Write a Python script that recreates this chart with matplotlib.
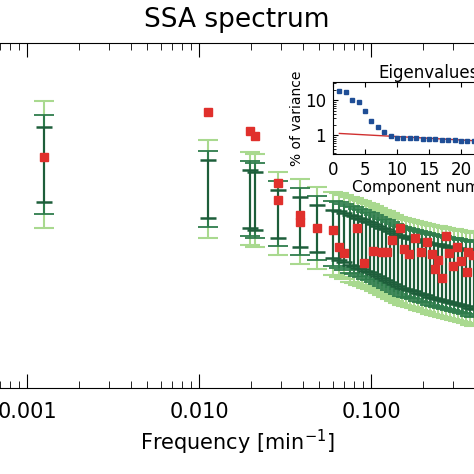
import numpy as np
import matplotlib
matplotlib.use("Agg")
import matplotlib.pyplot as plt

# ---- main spectrum data (arbitrary log-power units) ----
bar_freq = [0.00126, 0.0113, 0.0198, 0.0212, 0.0288, 0.0386, 0.0485, 0.0601, 0.0652, 0.0697,
            0.0755, 0.0797, 0.0840, 0.0886, 0.0935, 0.0986, 0.1040, 0.1098, 0.1160, 0.1222,
            0.1288, 0.1361, 0.1435, 0.1514, 0.1596, 0.1687, 0.1778, 0.1875, 0.1982, 0.2089,
            0.2203, 0.2323, 0.2455, 0.2588, 0.2729, 0.2877, 0.3041, 0.3206, 0.3381, 0.3565,
            0.3767, 0.3972]
dark_hi = [261, 228, 218, 216, 198, 191, 183, 178, 177, 175,
           173, 172, 170, 169, 167, 166, 164, 162, 160, 159, 157, 155, 153, 152, 151, 150,
           149, 148, 147, 146, 145, 144, 144, 143, 142, 141, 141, 140, 139, 139, 138, 137]
dark_lo = [186, 170, 160, 158, 150, 141, 136, 130, 128, 126,
           123, 122, 120, 119, 117, 116, 114, 112, 110, 108, 106, 104, 102, 100, 99, 98,
           97, 95, 94, 93, 91, 90, 89, 88, 87, 86, 85, 84, 83, 82, 80, 79]
med_hi = [273, 237, 227, 225, 207, 200, 192, 187, 186, 184,
          182, 181, 179, 178, 176, 175, 173, 171, 169, 168, 166, 164, 162, 161, 160, 159,
          158, 157, 156, 155, 154, 153, 153, 152, 151, 150, 150, 149, 148, 148, 147, 146]
med_lo = [174, 161, 152, 150, 142, 133, 128, 122, 120, 118,
          115, 114, 112, 111, 109, 108, 106, 104, 102, 100, 98, 96, 94, 92, 91, 90,
          89, 87, 86, 85, 83, 82, 81, 80, 79, 78, 77, 76, 75, 74, 72, 71]
light_hi = [287, 248, 236, 234, 216, 209, 201, 196, 195, 193,
            191, 190, 188, 187, 185, 184, 182, 180, 178, 177, 175, 173, 171, 170, 169, 168,
            167, 166, 165, 164, 163, 162, 162, 161, 160, 159, 159, 158, 157, 157, 156, 155]
light_lo = [160, 150, 143, 141, 133, 124, 119, 113, 111, 109,
            106, 105, 103, 102, 100, 99, 97, 95, 93, 91, 89, 87, 85, 83, 82, 81,
            80, 78, 77, 76, 74, 73, 72, 71, 70, 69, 68, 67, 66, 65, 63, 62]

red_freq = [0.00126, 0.0113, 0.0198, 0.0212, 0.0288, 0.0288, 0.0386, 0.0386, 0.0485, 0.0601,
            0.0652, 0.0697, 0.0829, 0.0910, 0.1027, 0.1160, 0.1240, 0.1324, 0.1475, 0.1556,
            0.1664, 0.1803, 0.1954, 0.2117, 0.2264, 0.2355, 0.2453, 0.2588, 0.2729, 0.2839,
            0.2999, 0.3162, 0.3334, 0.3614, 0.3664, 0.3917]
red_val = [231, 276, 257, 252, 205, 188, 173, 166, 160, 158,
           141, 135, 160, 125, 137, 136, 136, 148, 160, 139,
           134, 150, 136, 146, 134, 119, 128, 110, 152, 135,
           122, 141, 127, 116, 136, 133]

# ---- inset: eigenvalues ----
comp = list(range(1, 31))
eig = [18, 17, 10, 9, 5, 2.6, 1.7, 1.25, 0.95, 0.85, 0.83, 0.82, 0.81, 0.80, 0.79,
       0.76, 0.74, 0.72, 0.71, 0.70, 0.69, 0.68, 0.66, 0.65, 0.64, 0.63, 0.62, 0.61, 0.60, 0.59]
noise_x = [1, 30]
noise_y = [1.12, 0.58]

W = H = 474
fig = plt.figure(figsize=(4.74, 4.74), dpi=100)
ax = fig.add_axes([0, 1 - 388 / H, 1, (388 - 43) / H])
ax.set_xscale("log")
ax.set_xlim(10 ** -3.157, 10 ** -0.401)
ax.set_ylim(0, 345)

light = "#a9d98f"
dark = "#1d5e3a"
bf = np.array(bar_freq)
ax.errorbar(bf, (np.array(light_hi) + np.array(light_lo)) / 2,
            yerr=[(np.array(light_hi) - np.array(light_lo)) / 2] * 2,
            fmt="none", ecolor=light, elinewidth=1.5, capsize=7, capthick=1.5)
ax.errorbar(bf, (np.array(med_hi) + np.array(med_lo)) / 2,
            yerr=[(np.array(med_hi) - np.array(med_lo)) / 2] * 2,
            fmt="none", ecolor="#2f7d4c", elinewidth=1.5, capsize=7, capthick=1.3)
ax.errorbar(bf, (np.array(dark_hi) + np.array(dark_lo)) / 2,
            yerr=[(np.array(dark_hi) - np.array(dark_lo)) / 2] * 2,
            fmt="none", ecolor=dark, elinewidth=1.5, capsize=6, capthick=1.8)
ax.plot(red_freq, red_val, "s", color="#e0302c", ms=6, mec="#e0302c", zorder=5)

for s in ["left", "right"]:
    ax.spines[s].set_visible(False)
ax.yaxis.set_visible(False)
ax.tick_params(axis="x", which="both", direction="in", top=True, bottom=True, labelsize=15, pad=10)
ax.tick_params(axis="x", which="major", length=10)
ax.tick_params(axis="x", which="minor", length=5)
ax.set_xticks([0.001, 0.01, 0.1])
ax.set_xticklabels(["0.001", "0.010", "0.100"])
ax.set_xlabel("Frequency [min$^{-1}$]", fontsize=15, labelpad=4)
fig.text(0.5, 1 - 20 / H, "SSA spectrum", ha="center", va="center", fontsize=19)

# inset
ia = fig.add_axes([333 / W, 1 - 154 / H, 192 / W, (154 - 82) / H])
ia.set_yscale("log")
ia.set_xlim(0, 30)
ia.set_ylim(0.29, 33)
ia.plot(noise_x, noise_y, color="#d03030", lw=1)
ia.plot(comp, eig, "s", color="#1f4e96", ms=3)
ia.set_xticks([0, 5, 10, 15, 20, 25, 30])
ia.set_yticks([1, 10])
ia.set_yticklabels(["1", "10"])
ia.tick_params(which="both", direction="in", labelsize=12, top=True, right=True, pad=5)
ia.set_title("Eigenvalues", fontsize=12, pad=3)
ia.set_xlabel("Component number", fontsize=11, labelpad=1)
ia.set_ylabel("% of variance", fontsize=10, labelpad=1)

fig.savefig("out.png", dpi=100)
